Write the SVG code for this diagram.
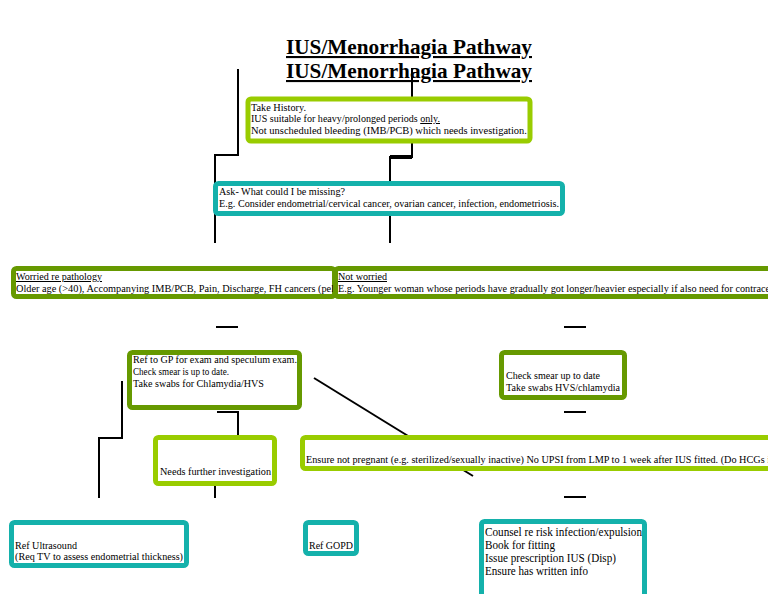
<svg xmlns="http://www.w3.org/2000/svg" width="768" height="594" viewBox="0 0 768 594">
<style>
.t{font-family:"Liberation Serif","Times New Roman",serif;font-size:10px;fill:#000}
.big{font-size:11.5px}
.title{font-family:"Liberation Serif","Times New Roman",serif;font-size:21px;font-weight:bold;text-decoration:underline;fill:#000}
.lg{fill:#fff;stroke:#99cc00;stroke-width:5}
.dg{fill:#fff;stroke:#669900;stroke-width:5}
.tl{fill:#fff;stroke:#14b1ab;stroke-width:5}
.c{fill:none;stroke:#000;stroke-width:2}
.u{text-decoration:underline}
</style>
<rect width="768" height="594" fill="#fff"/>
<g id="title">
<text class="title" x="286" y="54" textLength="246" lengthAdjust="spacingAndGlyphs">IUS/Menorrhagia Pathway</text>
<text class="title" x="286" y="78" textLength="246" lengthAdjust="spacingAndGlyphs">IUS/Menorrhagia Pathway</text>
</g>
<g id="connectors">
<polyline class="c" points="238,69 238,155 215,155 215,243"/>
<line class="c" x1="412" y1="68" x2="412" y2="97"/>
<polyline class="c" points="412,142 412,157 390,157 390,243"/>
<line x1="390" y1="157" x2="412" y2="157" stroke="#000" stroke-width="4"/>
<line class="c" x1="216" y1="327" x2="238" y2="327"/>
<line class="c" x1="564" y1="327" x2="586" y2="327"/>
<line class="c" x1="564" y1="412" x2="586" y2="412"/>
<line class="c" x1="564" y1="497" x2="586" y2="497"/>
<line class="c" x1="314" y1="378" x2="473" y2="476"/>
<polyline class="c" points="122,381 122,438 99,438 99,498"/>
<polyline class="c" points="217,412 238,412 238,437"/>
<line class="c" x1="215" y1="485" x2="215" y2="498"/>
</g>
<g id="history">
<rect class="lg" x="248" y="99" width="282" height="42" rx="3"/>
<text class="t" x="251" y="111" textLength="55" lengthAdjust="spacingAndGlyphs">Take History.</text>
<text class="t" x="251" y="122" textLength="189" lengthAdjust="spacingAndGlyphs">IUS suitable for heavy/prolonged periods <tspan class="u">only.</tspan></text>
<text class="t" x="251" y="134" textLength="276" lengthAdjust="spacingAndGlyphs">Not unscheduled bleeding (IMB/PCB) which needs investigation.</text>
</g>
<g id="ask">
<rect class="tl" x="215.5" y="183.5" width="347" height="30" rx="3"/>
<text class="t" x="219" y="195" textLength="126" lengthAdjust="spacingAndGlyphs">Ask- What could I be missing?</text>
<text class="t" x="219" y="207" textLength="340" lengthAdjust="spacingAndGlyphs">E.g. Consider endometrial/cervical cancer, ovarian cancer, infection, endometriosis.</text>
</g>
<g id="worried">
<rect class="dg" x="13.5" y="268.5" width="321" height="28" rx="3"/>
<text class="t u" x="16" y="280" textLength="86" lengthAdjust="spacingAndGlyphs">Worried re pathology</text>
<text class="t" x="16" y="292" textLength="318" lengthAdjust="spacingAndGlyphs">Older age (&gt;40), Accompanying IMB/PCB, Pain, Discharge, FH cancers (pel</text>
</g>
<g id="notworried">
<rect class="dg" x="335.5" y="268.5" width="440" height="28" rx="3"/>
<text class="t u" x="338" y="280" textLength="49" lengthAdjust="spacingAndGlyphs">Not worried</text>
<text class="t" x="338" y="292" textLength="432" lengthAdjust="spacingAndGlyphs">E.g. Younger woman whose periods have gradually got longer/heavier especially if also need for contrace</text>
</g>
<g id="refgp">
<rect class="dg" x="129.5" y="352.5" width="170" height="55" rx="3"/>
<text class="t" x="133" y="363" textLength="164" lengthAdjust="spacingAndGlyphs">Ref to GP for exam and speculum exam.</text>
<text class="t" x="133" y="375" textLength="96" lengthAdjust="spacingAndGlyphs">Check smear is up to date.</text>
<text class="t" x="133" y="387" textLength="131" lengthAdjust="spacingAndGlyphs">Take swabs for Chlamydia/HVS</text>
</g>
<g id="checksmear">
<rect class="dg" x="501.5" y="352.5" width="123" height="45" rx="3"/>
<text class="t" x="506" y="379" textLength="94" lengthAdjust="spacingAndGlyphs">Check smear up to date</text>
<text class="t" x="506" y="391" textLength="114" lengthAdjust="spacingAndGlyphs">Take swabs HVS/chlamydia</text>
</g>
<g id="further">
<rect class="lg" x="155.5" y="437.5" width="119" height="46" rx="3"/>
<text class="t" x="160" y="475" textLength="111" lengthAdjust="spacingAndGlyphs">Needs further investigation</text>
</g>
<g id="pregnant">
<rect class="lg" x="302.5" y="437.5" width="470" height="31" rx="3"/>
<text class="t" x="306" y="463" textLength="464" lengthAdjust="spacingAndGlyphs">Ensure not pregnant (e.g. sterilized/sexually inactive) No UPSI from LMP to 1 week after IUS fitted. (Do HCGs i</text>
</g>
<g id="ultrasound">
<rect class="tl" x="11.5" y="522.5" width="175" height="43" rx="3"/>
<text class="t" x="15" y="549" textLength="62" lengthAdjust="spacingAndGlyphs">Ref Ultrasound</text>
<text class="t" x="15" y="560" textLength="168" lengthAdjust="spacingAndGlyphs">(Req TV to assess endometrial thickness)</text>
</g>
<g id="gopd">
<rect class="tl" x="305.5" y="522.5" width="51" height="31" rx="3"/>
<text class="t" x="309" y="549" textLength="44" lengthAdjust="spacingAndGlyphs">Ref GOPD</text>
</g>
<g id="counsel">
<rect class="tl" x="481.5" y="521.5" width="163" height="80" rx="3"/>
<text class="t big" x="485" y="536" textLength="157" lengthAdjust="spacingAndGlyphs">Counsel re risk infection/expulsion</text>
<text class="t big" x="485" y="549" textLength="70" lengthAdjust="spacingAndGlyphs">Book for fitting</text>
<text class="t big" x="485" y="562" textLength="131" lengthAdjust="spacingAndGlyphs">Issue prescription IUS (Disp)</text>
<text class="t big" x="485" y="575" textLength="103" lengthAdjust="spacingAndGlyphs">Ensure has written info</text>
</g>
</svg>
